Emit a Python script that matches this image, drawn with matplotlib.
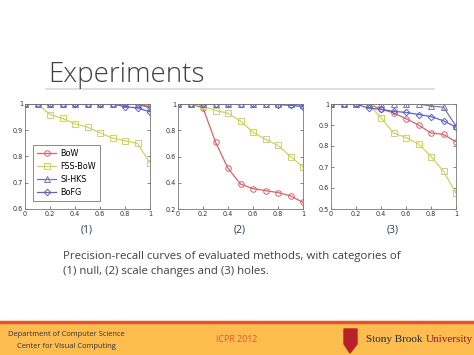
import numpy as np
import matplotlib.pyplot as plt
from matplotlib.patches import Rectangle, Polygon

recall = [0, 0.1, 0.2, 0.3, 0.4, 0.5, 0.6, 0.7, 0.8, 0.9, 1.0]
methods = ['BoW', 'FSS-BoW', 'SI-HKS', 'BoFG']

# (1) null
null_bow = [1, 1, 1, 1, 1, 1, 1, 1, 1, 1, 0.99]
null_fss = [1, 1, 0.96, 0.945, 0.925, 0.912, 0.89, 0.87, 0.86, 0.85, 0.775]
null_hks = [1, 1, 1, 1, 1, 1, 1, 1, 1, 1, 0.985]
null_bofg = [1, 1, 1, 1, 1, 1, 1, 1, 0.99, 0.985, 0.97]

# (2) scale changes
scale_bow = [1, 1, 0.97, 0.71, 0.51, 0.39, 0.355, 0.34, 0.325, 0.30, 0.25]
scale_fss = [1, 1, 0.985, 0.95, 0.93, 0.87, 0.785, 0.73, 0.685, 0.60, 0.52]
scale_hks = [1, 1, 1, 1, 1, 1, 1, 1, 1, 1, 0.99]
scale_bofg = [1, 1, 1, 1, 1, 1, 1, 1, 0.995, 0.99, 0.98]

# (3) holes
holes_bow = [1, 1, 1, 1, 0.975, 0.958, 0.93, 0.90, 0.862, 0.855, 0.82]
holes_fss = [1, 1, 1, 1, 0.935, 0.862, 0.84, 0.81, 0.75, 0.68, 0.575]
holes_hks = [1, 1, 1, 1, 1, 1, 1, 1, 0.99, 0.985, 0.895]
holes_bofg = [1, 1, 1, 0.98, 0.975, 0.965, 0.96, 0.95, 0.94, 0.92, 0.89]

panels = [
    ('(1)', [null_bow, null_fss, null_hks, null_bofg], (0.6, 1.0), [0.6, 0.7, 0.8, 0.9, 1.0], ['0.6', '0.7', '0.8', '0.9', '1']),
    ('(2)', [scale_bow, scale_fss, scale_hks, scale_bofg], (0.2, 1.0), [0.2, 0.4, 0.6, 0.8, 1.0], ['0.2', '0.4', '0.6', '0.8', '1']),
    ('(3)', [holes_bow, holes_fss, holes_hks, holes_bofg], (0.5, 1.0), [0.5, 0.6, 0.7, 0.8, 0.9, 1.0], ['0.5', '0.6', '0.7', '0.8', '0.9', '1']),
]

colors = ['#d9626a', '#cdd45c', '#7377a8', '#5b5fd0']
markers = ['o', 's', '^', 'D']
msizes = [4, 4, 4, 3.3]

W, H = 474, 355
fig = plt.figure(figsize=(W / 100, H / 100), dpi=100)
fig.patch.set_facecolor('white')

# slide title + rule
fig.text(48 / W, 1 - 82 / H, 'Experiments', fontsize=20, color='#404040',
         family=['Open Sans', 'DejaVu Sans'], fontweight='light', va='baseline')
fig.add_artist(plt.Line2D([46 / W, 434 / W], [1 - 89 / H, 1 - 89 / H], color='#d9d9d9', lw=1.2))

lefts = [25, 178, 331]
for i, (label, series, ylim, yticks, ylabels) in enumerate(panels):
    ax = fig.add_axes([lefts[i] / W, 1 - 209 / H, 125 / W, 105 / H])
    for vals, name, c, m, ms in zip(series, methods, colors, markers, msizes):
        ax.plot(recall, vals, color=c, marker=m, markersize=ms, markerfacecolor='none',
                markeredgewidth=0.7, lw=0.9, label=name)
    ax.set_xlim(0, 1)
    ax.set_ylim(*ylim)
    ax.set_xticks([0, 0.2, 0.4, 0.6, 0.8, 1.0])
    ax.set_xticklabels(['0', '0.2', '0.4', '0.6', '0.8', '1'])
    ax.set_yticks(yticks)
    ax.set_yticklabels(ylabels)
    ax.tick_params(direction='in', labelsize=4.7, length=2, width=0.5, pad=1.5,
                   colors='#555555', labelcolor='#333333', top=True, right=True)
    for s in ax.spines.values():
        s.set_color('#777777')
        s.set_linewidth(0.6)
    fig.text((lefts[i] + 62) / W, 1 - 232 / H, label, fontsize=7.5, color='#2b3a5c',
             family=['Open Sans', 'DejaVu Sans'], ha='center')
    if i == 0:
        leg = ax.legend(loc='lower left', fontsize=5.8, frameon=True, fancybox=False,
                        handlelength=2.4, borderpad=0.45, labelspacing=0.5,
                        handletextpad=0.5, bbox_to_anchor=(0.035, 0.04))
        leg.get_frame().set_edgecolor('#555555')
        leg.get_frame().set_linewidth(0.6)

# caption
fig.text(63 / W, 1 - 259 / H, 'Precision-recall curves of evaluated methods, with categories of',
         fontsize=8.2, color='#404040', family=['Open Sans', 'DejaVu Sans'])
fig.text(63 / W, 1 - 274 / H, '(1) null, (2) scale changes and (3) holes.',
         fontsize=8.2, color='#404040', family=['Open Sans', 'DejaVu Sans'])

# footer band
fig.add_artist(Rectangle((0, 0), 1, 33 / H, transform=fig.transFigure, color='#fcbc4e', zorder=0))
fig.add_artist(Rectangle((0, 32 / H), 1, 2.5 / H, transform=fig.transFigure, color='#e0552b', zorder=1))
fig.text(66 / W, 1 - 335 / H, 'Department of Computer Science', fontsize=5.4, color='#333333',
         family=['Open Sans', 'DejaVu Sans'], ha='center', va='center')
fig.text(66 / W, 1 - 346 / H, 'Center for Visual Computing', fontsize=5.4, color='#333333',
         family=['Open Sans', 'DejaVu Sans'], ha='center', va='center')
fig.text(237 / W, 1 - 340 / H, 'ICPR 2012', fontsize=6.3, color='#e0552b',
         family=['Open Sans', 'DejaVu Sans'], ha='center', va='center')
shield = [(344, 329), (357, 329), (357, 344), (350, 353), (344, 344)]
fig.add_artist(Polygon([(x / W, 1 - y / H) for x, y in shield], closed=True,
                       transform=fig.transFigure, color='#b8202a', zorder=2))
fig.text(366 / W, 1 - 340 / H, 'Stony Brook', fontsize=8, color='#2a2a2a',
         family=['Liberation Serif', 'DejaVu Serif'], va='center')
fig.text(426 / W, 1 - 340 / H, 'University', fontsize=8, color='#8b1a1a',
         family=['Liberation Serif', 'DejaVu Serif'], va='center')

fig.savefig('out.png', dpi=100)
